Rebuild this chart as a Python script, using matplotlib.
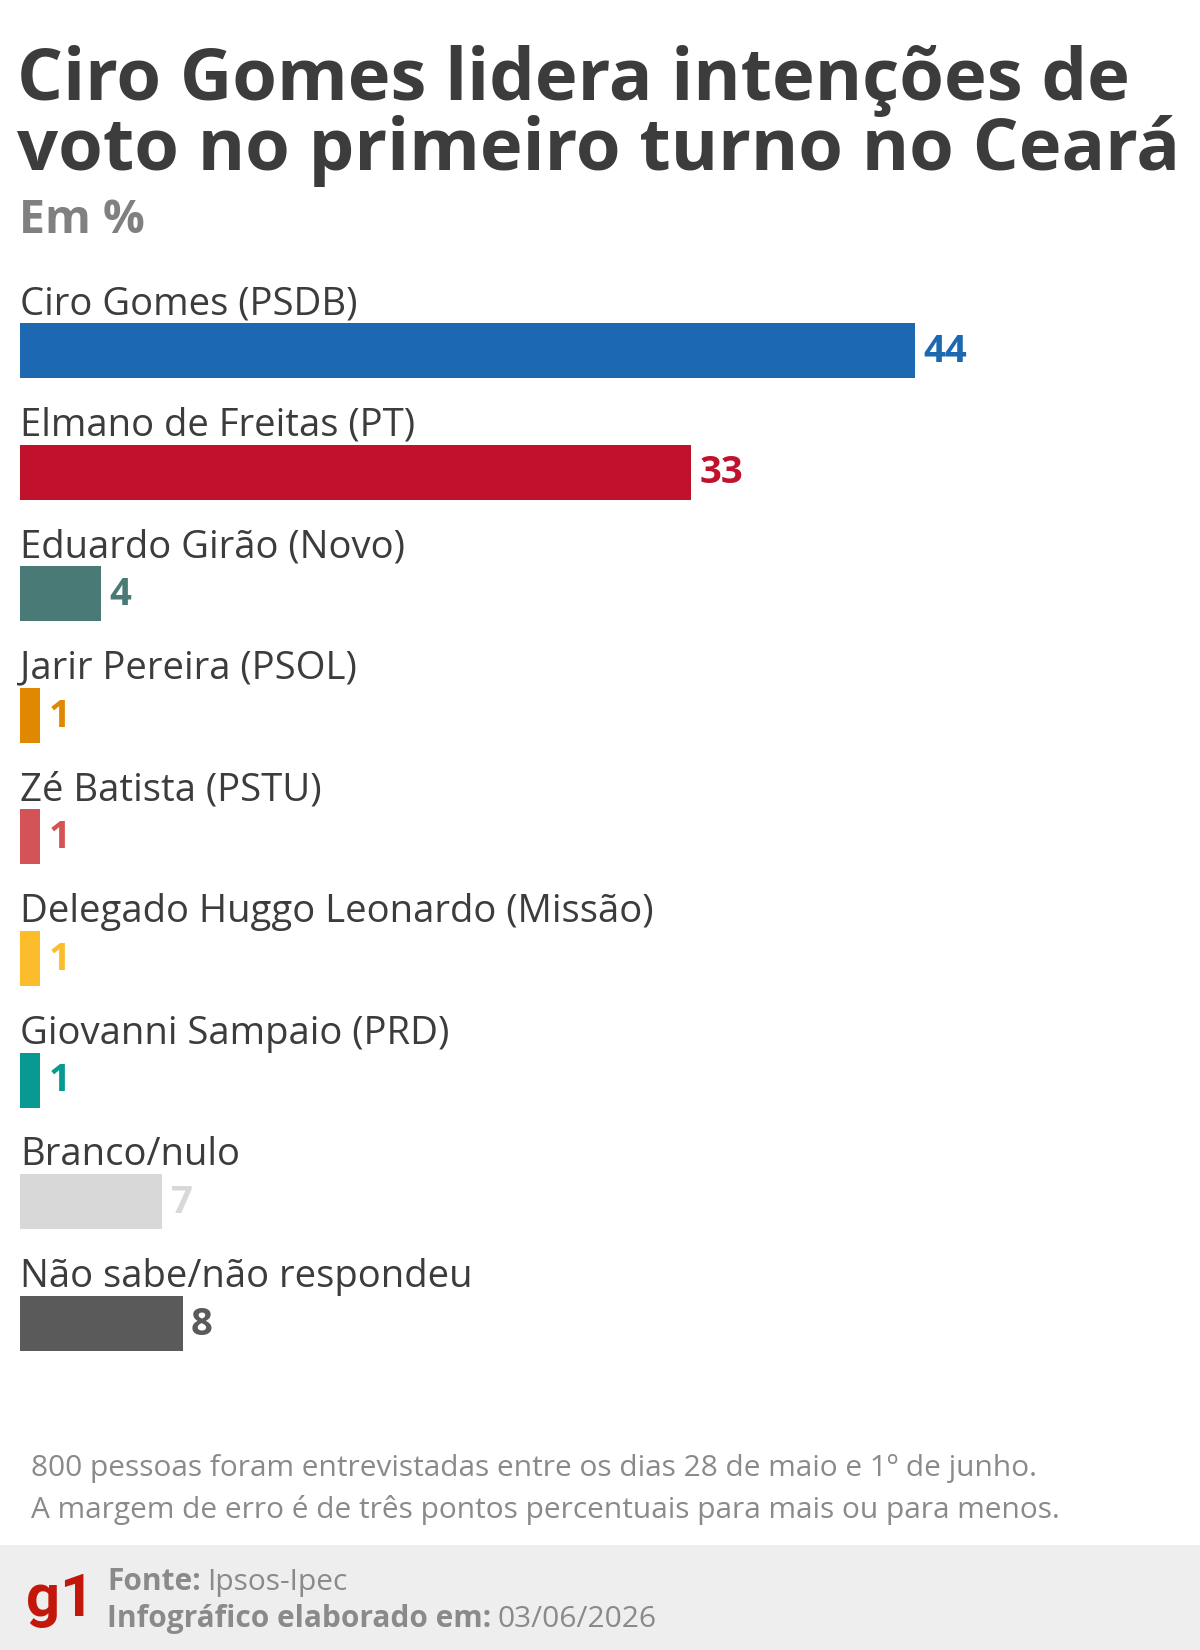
import matplotlib
matplotlib.use("Agg")
import matplotlib.pyplot as plt
from matplotlib.patches import Rectangle

plt.rcParams["font.family"] = ["Open Sans", "DejaVu Sans"]

W, H = 1200, 1650

TITLE_LINES = ["Ciro Gomes lidera intenções de", "voto no primeiro turno no Ceará"]
SUBTITLE = "Em %"
CANDIDATES = [
    "Ciro Gomes (PSDB)",
    "Elmano de Freitas (PT)",
    "Eduardo Girão (Novo)",
    "Jarir Pereira (PSOL)",
    "Zé Batista (PSTU)",
    "Delegado Huggo Leonardo (Missão)",
    "Giovanni Sampaio (PRD)",
    "Branco/nulo",
    "Não sabe/não respondeu",
]
VALUES = [44, 33, 4, 1, 1, 1, 1, 7, 8]
COLORS = ["#1c68b1", "#c0112d", "#4a7a76", "#e08900", "#d45356",
          "#fbbd2b", "#089a92", "#d8d8d8", "#5a5a5a"]
NOTE_LINES = [
    "800 pessoas foram entrevistadas entre os dias 28 de maio e 1º de junho.",
    "A margem de erro é de três pontos percentuais para mais ou para menos.",
]
SOURCE = "Ipsos-Ipec"
DATE = "03/06/2026"

TXT = "#3c3c3c"
GREY = "#8a8a8a"


def fy(px):
    return 1 - px / H


fig = plt.figure(figsize=(W / 100, H / 100), dpi=100)
fig.patch.set_facecolor("white")

# title block
fig.text(17 / W, fy(100), TITLE_LINES[0], fontsize=52,
         fontweight="bold", color=TXT, va="baseline")
fig.text(17 / W, fy(170), TITLE_LINES[1], fontsize=52,
         fontweight="bold", color=TXT, va="baseline")
fig.text(19 / W, fy(233), SUBTITLE, fontsize=33.5, fontweight="bold",
         color="#808080", va="baseline")

# bars
px_per_unit = 20.34
pitch = 121.6
c0 = 350.5
top = c0 - 0.5 * pitch
bottom = c0 + (len(VALUES) - 0.5) * pitch
ax = fig.add_axes([0, fy(bottom), 1, (bottom - top) / H])
ax.set_xlim(-20 / px_per_unit, (W - 20) / px_per_unit)
ax.set_ylim(len(VALUES) - 0.5, -0.5)
ax.axis("off")

ypos = list(range(len(VALUES)))
ax.barh(ypos, VALUES, height=55 / pitch, color=COLORS, left=0)
for i, (name, v, c) in enumerate(zip(CANDIDATES, VALUES, COLORS)):
    ax.text(0, i - 0.3, name, fontsize=27.5, color=TXT, va="baseline", ha="left")
    ax.text(v + 0.4, i + 0.01, str(v), fontsize=27.5, fontweight="bold",
            color=c, va="center", ha="left")

# note
fig.text(31 / W, fy(1476), NOTE_LINES[0], fontsize=21.5, color=GREY, va="baseline")
fig.text(31 / W, fy(1518), NOTE_LINES[1], fontsize=21.5, color=GREY, va="baseline")

# footer band
fig.patches.append(Rectangle((0, 0), 1, fy(1545), transform=fig.transFigure,
                             facecolor="#eeeeee", edgecolor="none", zorder=0))
fig.text(26 / W, fy(1616), "g1", fontsize=43, fontweight="bold",
         family="Roboto", color="#c4170c", va="baseline")
lab1 = fig.text(107 / W, fy(1590), "Fonte:", fontsize=21.5, fontweight="bold",
                color=GREY, va="baseline")
lab2 = fig.text(107 / W, fy(1627), "Infográfico elaborado em:", fontsize=21.5,
                fontweight="bold", color=GREY, va="baseline")

fig.canvas.draw()
r = fig.canvas.get_renderer()
for t, val in [(lab1, SOURCE), (lab2, DATE)]:
    bb = t.get_window_extent(r)
    fig.text((bb.x1 + 6) / W, t.get_position()[1], val, fontsize=21.5,
             color=GREY, va="baseline")

fig.savefig("out.png", dpi=100)
